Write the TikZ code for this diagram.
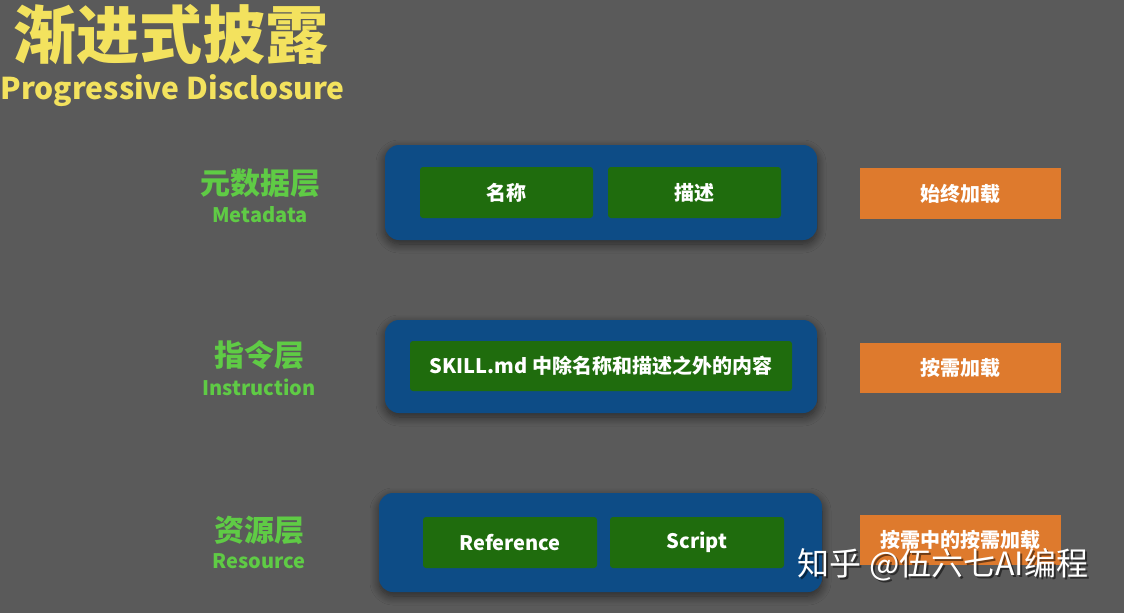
\documentclass[tikz,border=0pt]{standalone}
\usepackage{fontspec}
\setmainfont{Noto Sans CJK SC}
\usetikzlibrary{shadows.blur}
\definecolor{sfondo}{HTML}{5A5A5A}
\definecolor{giallo}{HTML}{F3E25E}
\definecolor{verdeChiaro}{HTML}{5FCB45}
\definecolor{bluStrato}{HTML}{0D4C86}
\definecolor{verdeVoce}{HTML}{1F6C0D}
\definecolor{arancio}{HTML}{DE7A2D}
\newcommand{\fsize}[1]{\fontsize{#1}{#1}\selectfont}
\tikzset{
  layer/.style = {rounded corners = 14pt, fill = bluStrato, inner sep = 0pt,
    blur shadow = {shadow xshift = 0pt, shadow yshift = -4pt, shadow blur radius = 9pt,
      shadow blur steps = 12, shadow opacity = 55}},
  item/.style = {rounded corners = 3pt, fill = verdeVoce, text = white, inner sep = 0pt,
    minimum width = 173pt, minimum height = 51pt, font = \bfseries\fsize{20}},
  loadbox/.style = {fill = arancio, text = white, inner sep = 0pt,
    minimum width = 201pt, minimum height = 51pt, font = \bfseries\fsize{20}},
  layername/.style = {text = verdeChiaro, font = \bfseries\fsize{30}},
  layersub/.style = {text = verdeChiaro, font = \bfseries\fsize{20}}
}

\begin{document}
\begin{tikzpicture}[x = 1pt, y = -1pt]
    % Sfondo
    \fill[sfondo] (0,0) rectangle (1124,613);
    \useasboundingbox (0,0) rectangle (1124,613);
    % Titolo
    \node[text = giallo, font = \bfseries\fsize{63}, anchor = west] (titolo) at (10,35) {渐进式披露};
    \node[text = giallo, font = \bfseries\fsize{30}, anchor = west] (sottotitolo) at (-3,91) {Progressive Disclosure};
    % Strato 1
    \node[layer, minimum width = 432pt, minimum height = 95pt] (meta) at (601,192.5) {};
    \node[item] (nome) at (506.5,192.5) {名称};
    \node[item] (descr) at (694.5,192.5) {描述};
    \node[loadbox] (sempre) at (960.5,193.5) {始终加载};
    \node[layername] (metaNome) at (260,183) {元数据层};
    \node[layersub] (metaSub) at (260,215) {Metadata};
    % Strato 2
    \node[layer, minimum width = 432pt, minimum height = 93pt] (istr) at (601,366.5) {};
    \node[item, minimum width = 382pt, minimum height = 50pt] (skill) at (601,366) {SKILL.md 中除名称和描述之外的内容};
    \node[loadbox, minimum height = 50pt] (richiesta) at (960.5,368) {按需加载};
    \node[layername] (istrNome) at (259,355) {指令层};
    \node[layersub] (istrSub) at (259,387) {Instruction};
    % Strato 3
    \node[layer, minimum width = 443pt, minimum height = 99pt] (risorse) at (600.5,542.5) {};
    \node[item, minimum width = 174pt] (rif) at (510,542.5) {Reference};
    \node[item, minimum width = 174pt] (script) at (697,542.5) {Script};
    \node[loadbox, minimum height = 50pt] (annidato) at (960.5,540) {按需中的按需加载};
    \node[layername] (risNome) at (259,530) {资源层};
    \node[layersub] (risSub) at (259,561) {Resource};
    % Filigrana
    \node[text = black, opacity = 0.5, font = \fsize{32}] (ombra) at (945,567) {知乎 @伍六七AI编程};
    \node[text = white, font = \fsize{32}] (firma) at (943,565) {知乎 @伍六七AI编程};
\end{tikzpicture}
\end{document}
